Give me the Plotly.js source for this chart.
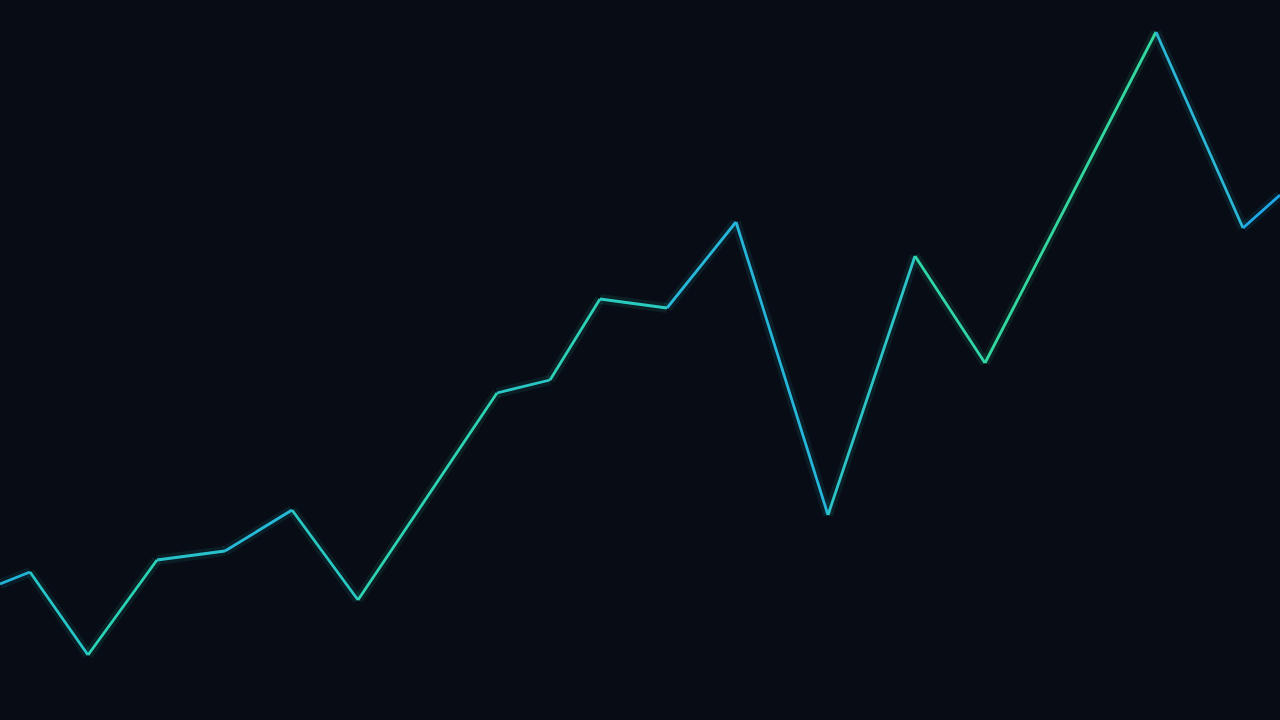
<!DOCTYPE html>
<html>
<head>
<meta charset="utf-8">
<script src="https://cdn.plot.ly/plotly-3.0.1.min.js"></script>
<style>
  html, body { margin: 0; padding: 0; background: #080c14; }
  #chart { width: 1280px; height: 720px; }
</style>
</head>
<body>
<div id="chart"></div>
<script>
// Data (x position units, value units)
const xValues = [0, 30, 88, 157, 225, 292, 358, 497, 550, 600, 667, 736, 828, 915, 985, 1156, 1243, 1280];
const yValues = [136, 148, 65, 160, 169, 210, 120, 327, 340, 421, 412, 498, 205, 464, 357, 688, 492, 525];

// Styling: colour of each segment between consecutive points
const segmentColors = [
  '#22b4d8', '#27c6c8', '#2bd3b6', '#28c2cc', '#26bad6', '#29c8c2',
  '#2dd3b2', '#2ac8c4', '#2dd1b8', '#2accc0', '#28b8da', '#26b6da',
  '#2cc4c6', '#31d5aa', '#33d8a0', '#2ab8d6', '#1ea8e6'
];

const traces = [];
// glow layer
for (let i = 0; i < xValues.length - 1; i++) {
  traces.push({
    x: [xValues[i], xValues[i + 1]],
    y: [yValues[i], yValues[i + 1]],
    mode: 'lines',
    line: { color: segmentColors[i], width: 10 },
    opacity: 0.1,
    hoverinfo: 'skip',
    showlegend: false
  });
}
// main line
for (let i = 0; i < xValues.length - 1; i++) {
  traces.push({
    x: [xValues[i], xValues[i + 1]],
    y: [yValues[i], yValues[i + 1]],
    mode: 'lines',
    line: { color: segmentColors[i], width: 2.8 },
    hoverinfo: 'skip',
    showlegend: false
  });
}

const layout = {
  width: 1280,
  height: 720,
  margin: { l: 0, r: 0, t: 0, b: 0, pad: 0 },
  paper_bgcolor: '#080c14',
  plot_bgcolor: '#080c14',
  showlegend: false,
  xaxis: { range: [0, 1280], visible: false, showgrid: false, zeroline: false, fixedrange: true },
  yaxis: { range: [0, 720], visible: false, showgrid: false, zeroline: false, fixedrange: true }
};

Plotly.newPlot('chart', traces, layout, { displayModeBar: false, staticPlot: true });
</script>
</body>
</html>
